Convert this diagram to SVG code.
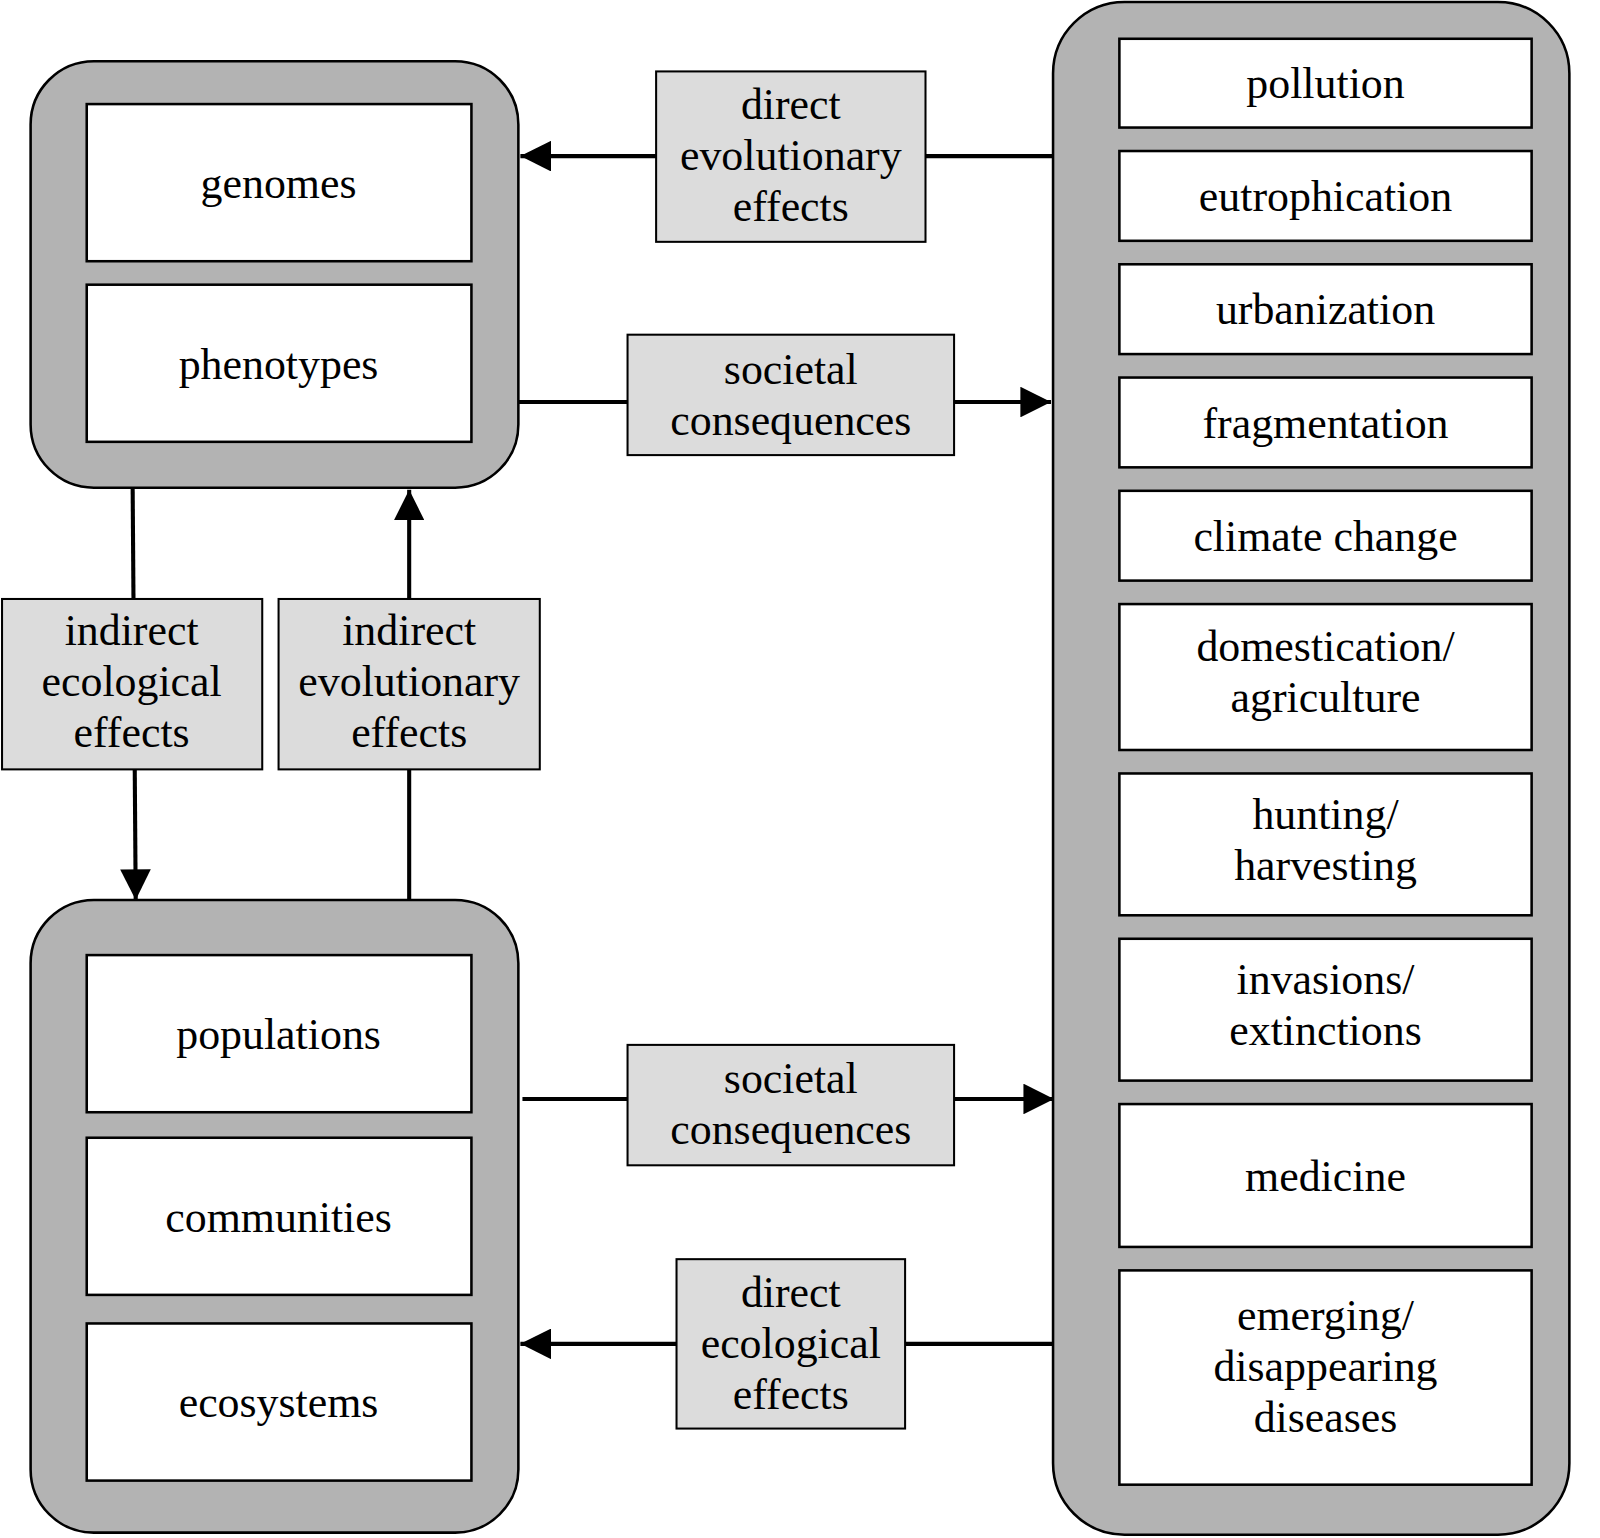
<svg xmlns="http://www.w3.org/2000/svg" width="1600" height="1538" viewBox="0 0 1600 1538">
<defs>
<style>
.grp{fill:#b3b3b3;stroke:#000;stroke-width:2.5}
.box{fill:#fff;stroke:#000;stroke-width:2.5}
.lbl{fill:#dcdcdc;stroke:#000;stroke-width:2}
text{font-family:"Liberation Serif","Times New Roman",serif;font-size:43px;text-anchor:middle;fill:#000}
.ln{stroke:#000;stroke-width:4;fill:none}
</style>
<marker id="ah" viewBox="0 0 10 10" refX="10" refY="5" markerWidth="30" markerHeight="30" markerUnits="userSpaceOnUse" orient="auto"><path d="M0,0L10,5L0,10z" fill="#000"/></marker>
</defs>
<rect width="1600" height="1538" fill="#fff"/>
<g transform="scale(1.0204)">
<g id="connectors">
<path class="ln" d="M1032,153H510" marker-end="url(#ah)"/>
<path class="ln" d="M508,394H1030" marker-end="url(#ah)"/>
<path class="ln" d="M512,1077H1033" marker-end="url(#ah)"/>
<path class="ln" d="M1032,1317H510" marker-end="url(#ah)"/>
<path class="ln" d="M130,478L133,882" marker-end="url(#ah)"/>
<path class="ln" d="M401,882V480" marker-end="url(#ah)"/>
</g>
<g id="evo"><rect class="grp" x="30" y="60" width="478" height="418" rx="62"/>
<rect class="box" x="85" y="102" width="377" height="154"/><text x="273" y="194">genomes</text>
<rect class="box" x="85" y="279" width="377" height="154"/><text x="273" y="371">phenotypes</text></g>
<g id="eco"><rect class="grp" x="30" y="882" width="478" height="620" rx="62"/>
<rect class="box" x="85" y="936" width="377" height="154"/><text x="273" y="1028">populations</text>
<rect class="box" x="85" y="1115" width="377" height="154"/><text x="273" y="1207">communities</text>
<rect class="box" x="85" y="1297" width="377" height="154"/><text x="273" y="1389">ecosystems</text></g>
<g id="human"><rect class="grp" x="1032" y="2" width="506" height="1502" rx="70"/>
<rect class="box" x="1097" y="38" width="404" height="87"/><text x="1299" y="96">pollution</text>
<rect class="box" x="1097" y="148" width="404" height="88"/><text x="1299" y="207">eutrophication</text>
<rect class="box" x="1097" y="259" width="404" height="88"/><text x="1299" y="318">urbanization</text>
<rect class="box" x="1097" y="370" width="404" height="88"/><text x="1299" y="429">fragmentation</text>
<rect class="box" x="1097" y="481" width="404" height="88"/><text x="1299" y="540">climate change</text>
<rect class="box" x="1097" y="592" width="404" height="143"/><text x="1299" y="648">domestication/</text><text x="1299" y="698">agriculture</text>
<rect class="box" x="1097" y="758" width="404" height="139"/><text x="1299" y="812">hunting/</text><text x="1299" y="862">harvesting</text>
<rect class="box" x="1097" y="920" width="404" height="139"/><text x="1299" y="974">invasions/</text><text x="1299" y="1024">extinctions</text>
<rect class="box" x="1097" y="1082" width="404" height="140"/><text x="1299" y="1167">medicine</text>
<rect class="box" x="1097" y="1245" width="404" height="210"/><text x="1299" y="1303">emerging/</text><text x="1299" y="1353">disappearing</text><text x="1299" y="1403">diseases</text></g>
<g id="l1"><rect class="lbl" x="643" y="70" width="264" height="167"/><text x="775" y="117">direct</text><text x="775" y="167">evolutionary</text><text x="775" y="217">effects</text></g>
<g id="l2"><rect class="lbl" x="615" y="328" width="320" height="118"/><text x="775" y="376">societal</text><text x="775" y="426">consequences</text></g>
<g id="l3"><rect class="lbl" x="615" y="1024" width="320" height="118"/><text x="775" y="1071">societal</text><text x="775" y="1121">consequences</text></g>
<g id="l4"><rect class="lbl" x="663" y="1234" width="224" height="166"/><text x="775" y="1281">direct</text><text x="775" y="1331">ecological</text><text x="775" y="1381">effects</text></g>
<g id="l5"><rect class="lbl" x="2" y="587" width="255" height="167"/><text x="129" y="632">indirect</text><text x="129" y="682">ecological</text><text x="129" y="732">effects</text></g>
<g id="l6"><rect class="lbl" x="273" y="587" width="256" height="167"/><text x="401" y="632">indirect</text><text x="401" y="682">evolutionary</text><text x="401" y="732">effects</text></g>
</g>
</svg>
